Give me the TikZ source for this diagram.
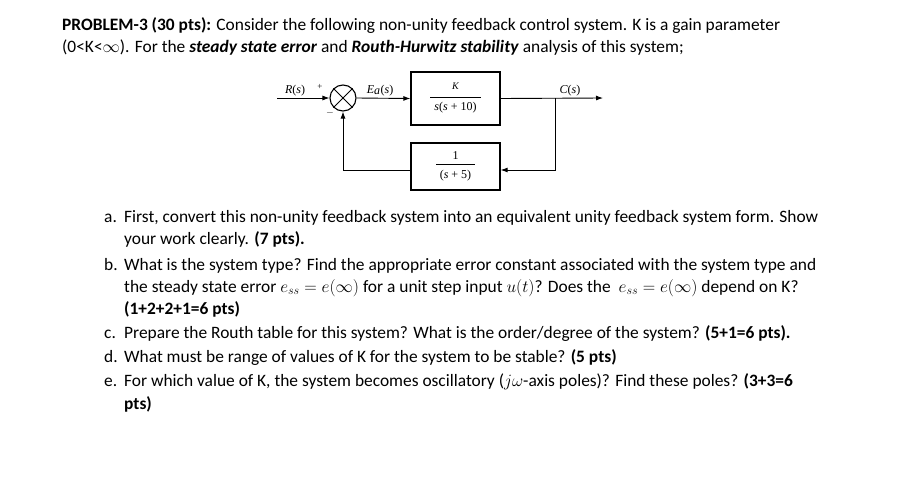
\documentclass[tikz,border=0pt]{standalone}
\usepackage{fontspec}
\setmainfont{Carlito}
\newfontfamily\tms{Liberation Serif}
\usetikzlibrary{arrows.meta}
\begin{document}
\begin{tikzpicture}[x=1pt,y=-1pt,
  txt/.style={anchor=base west,inner sep=0,font=\fontsize{17.4}{20}\selectfont},
  sig/.style={line width=0.9pt,-{Latex[length=7pt,width=5pt]}},
  blk/.style={draw,line width=1.3pt,inner sep=0},
  tl/.style={font=\tms\fontsize{12}{13}\selectfont,inner sep=0}]
\useasboundingbox (0,0) rectangle (905,479);
\node[txt] (t1) at (62,30) {\textbf{PROBLEM-3 (30 pts):} Consider the following non-unity feedback control system. K is a gain parameter};
\node[txt] (t2) at (62,52) {(0<K<$\infty$). For the \textbf{\textit{steady state error}} and \textbf{\textit{Routh-Hurwitz stability}} analysis of this system;};
% diagram
\node[blk,minimum width=89pt,minimum height=53pt] (G) at (455.5,98.5) {};
\node[tl,font=\tms\fontsize{10}{11}\selectfont] (Gn) at (455.5,86) {\itshape K};
\draw[line width=0.5pt] (430,97) -- (481,97);
\node[tl] (Gd) at (455.5,108) {\textit{s}(\textit{s} + 10)};
\node[blk,minimum width=89pt,minimum height=47pt] (H) at (455.5,166.5) {};
\node[tl] (Hn) at (455.5,156) {1};
\draw[line width=0.5pt] (436,164) -- (475,164);
\node[tl] (Hd) at (455.5,176) {(\textit{s} + 5)};
\node[draw,circle,line width=1.1pt,minimum size=26pt,inner sep=0] (S) at (343,98) {};
\draw[line width=1pt] (S.45) -- (S.225) (S.135) -- (S.-45);
\coordinate (in) at (277,98);
\coordinate (out) at (603,98);
\coordinate (br) at (555,98);
\coordinate (br2) at (555,170);
\coordinate (fb) at (343,170);
\draw[sig] (in) -- (S.west);
\draw[sig] (S.east) -- (G.west);
\draw[sig] (G.east) -- (out);
\draw[sig] (br) -- (br2) -- (H.east|-br2);
\draw[sig] (H.west|-fb) -- (fb) -- (S.south);
\node[tl,anchor=base] (Rl) at (295,93) {\textit{R}(\textit{s})};
\node[tl,font=\tms\fontsize{9}{9}\selectfont] (pl) at (320,87) {+};
\node[tl,font=\tms\fontsize{10}{10}\selectfont] (mi) at (330,113) {$-$};
\node[tl,anchor=base] (El) at (380,93) {\textit{E}$_{\textit{a}}$(\textit{s})};
\node[tl,anchor=base] (Cl) at (570,93) {\textit{C}(\textit{s})};
% items
\node[txt] (a) at (104,222) {a.};
\node[txt] (a1) at (124,222) {First, convert this non-unity feedback system into an equivalent unity feedback system form. Show};
\node[txt] (a2) at (124,244) {your work clearly. \textbf{(7 pts).}};
\node[txt] (b) at (104,270) {b.};
\node[txt] (b1) at (124,270) {What is the system type? Find the appropriate error constant associated with the system type and};
\node[txt] (b2) at (124,292) {the steady state error $e_{ss}=e(\infty)$ for a unit step input $u(t)$? Does the \ $e_{ss}=e(\infty)$ depend on K?};
\node[txt] (b3) at (124,314) {\textbf{(1+2+2+1=6 pts)}};
\node[txt] (c) at (104,338) {c.};
\node[txt] (c1) at (124,338) {Prepare the Routh table for this system? What is the order/degree of the system? \textbf{(5+1=6 pts).}};
\node[txt] (d) at (104,362) {d.};
\node[txt] (d1) at (124,362) {What must be range of values of K for the system to be stable? \textbf{(5 pts)}};
\node[txt] (e) at (104,386) {e.};
\node[txt] (e1) at (124,386) {For which value of K, the system becomes oscillatory ($j\omega$-axis poles)? Find these poles? \textbf{(3+3=6}};
\node[txt] (e2) at (124,409) {\textbf{pts)}};
\end{tikzpicture}
\end{document}
